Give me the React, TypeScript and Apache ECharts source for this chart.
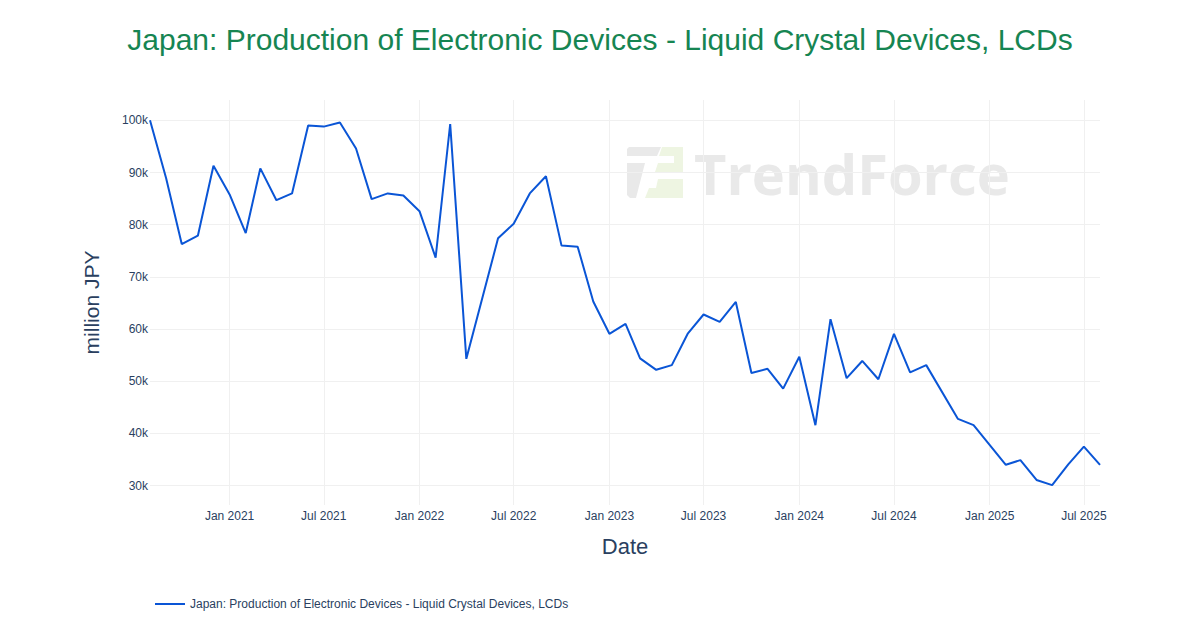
import React, { useEffect, useRef } from "react";
import * as echarts from "echarts";

// Monthly production, million JPY (months without a published figure are left out)
const months: string[] = [
  "2020-08", "2020-09", "2020-10", "2020-11", "2020-12",
  "2021-01", "2021-02", "2021-03", "2021-04", "2021-05", "2021-06",
  "2021-07", "2021-08", "2021-09", "2021-10", "2021-11", "2021-12",
  "2022-01", "2022-02", "2022-03", "2022-04", "2022-06",
  "2022-07", "2022-08", "2022-09", "2022-10", "2022-11", "2022-12",
  "2023-01", "2023-02", "2023-03", "2023-04", "2023-05", "2023-06",
  "2023-07", "2023-08", "2023-09", "2023-10", "2023-11", "2023-12",
  "2024-01", "2024-02", "2024-03", "2024-04", "2024-05", "2024-06",
  "2024-07", "2024-08", "2024-09", "2024-11", "2024-12",
  "2025-02", "2025-03", "2025-04", "2025-05", "2025-06",
  "2025-07", "2025-08",
];

const production: number[] = [
  100000, 88900, 76300, 77900, 91300,
  85800, 78400, 90800, 84700, 86000, 99000,
  98800, 99600, 94600, 84900, 86000, 85600,
  82600, 73700, 99300, 54300, 77400,
  80200, 86000, 89300, 76000, 75800, 65300,
  59100, 61000, 54400, 52200, 53100, 59200,
  62800, 61400, 65200, 51600, 52400, 48600,
  54700, 41600, 61900, 50600, 53900, 50400,
  59100, 51700, 53100, 42800, 41600,
  34000, 34900, 31100, 30100, 34100,
  37500, 34000,
];

const yTicks: number[] = [30000, 40000, 50000, 60000, 70000, 80000, 90000, 100000];
const xTicks: string[] = [
  "2021-01", "2021-07", "2022-01", "2022-07", "2023-01",
  "2023-07", "2024-01", "2024-07", "2025-01", "2025-07",
];

const seriesName = "Japan: Production of Electronic Devices - Liquid Crystal Devices, LCDs";
const monthNames = ["Jan", "Feb", "Mar", "Apr", "May", "Jun", "Jul", "Aug", "Sep", "Oct", "Nov", "Dec"];

const toTime = (ym: string): number => {
  const [y, m] = ym.split("-").map(Number);
  return Date.UTC(y, m - 1, 1);
};

const FONT = '"Liberation Sans", Arial, sans-serif';
const INK = "#2a3f5f";

export default function App() {
  const ref = useRef<HTMLDivElement>(null);

  useEffect(() => {
    if (!ref.current) return;
    const chart = echarts.init(ref.current, undefined, { renderer: "svg" });

    const data = months.map((m, i) => [toTime(m), production[i]]);
    const wm = "#e9e9e9";
    const wmGreen = "#eef5e2";

    chart.setOption({
      animation: false,
      backgroundColor: "#ffffff",
      textStyle: { fontFamily: FONT },
      title: {
        text: seriesName,
        left: "center",
        top: 19,
        textStyle: { color: "#168552", fontSize: 30, fontWeight: "normal", fontFamily: FONT },
      },
      grid: { left: 150, right: 100, top: 100, bottom: 125, containLabel: false },
      graphic: [
        {
          type: "group",
          z: -1,
          silent: true,
          children: [
            { type: "polygon", shape: { points: [[629, 147], [661, 147], [657, 156], [627, 156], [627, 149]] }, style: { fill: wm } },
            { type: "polygon", shape: { points: [[627, 163], [645, 163], [636, 198], [630, 198], [627, 195]] }, style: { fill: wm } },
            { type: "polygon", shape: { points: [[662, 147], [683, 147], [683, 172], [655, 172], [658, 163], [674, 163], [674, 156], [659, 156]] }, style: { fill: wmGreen } },
            { type: "polygon", shape: { points: [[658, 179], [683, 179], [683, 198], [645, 198], [649, 188], [656, 188]] }, style: { fill: wmGreen } },
            {
              type: "text",
              x: 694,
              y: 173,
              style: {
                text: "TrendForce",
                fill: wm,
                font: 'bold 56px "Open Sans", Lato, sans-serif',
                verticalAlign: "middle",
                align: "left",
              },
            },
          ],
        },
      ],
      legend: {
        left: 150,
        top: 593,
        icon: "path://M0,0 L30,0 L30,2 L0,2 Z",
        itemWidth: 30,
        itemHeight: 2,
        itemGap: 10,
        textStyle: { color: INK, fontSize: 12, fontFamily: FONT },
        data: [seriesName],
      },
      xAxis: {
        type: "value",
        min: toTime("2020-08"),
        max: toTime("2025-08"),
        name: "Date",
        nameLocation: "middle",
        nameGap: 30,
        nameTextStyle: { color: INK, fontSize: 22, fontFamily: FONT },
        axisLine: { show: false },
        axisTick: { show: false, customValues: xTicks.map(toTime) },
        axisLabel: {
          customValues: xTicks.map(toTime),
          color: INK,
          fontSize: 12,
          fontFamily: FONT,
          margin: 5,
          formatter: (v: number) => {
            const d = new Date(v);
            return `${monthNames[d.getUTCMonth()]} ${d.getUTCFullYear()}`;
          },
        },
        splitLine: { show: true, lineStyle: { color: "#f0f0f0", width: 1 } },
      },
      yAxis: {
        type: "value",
        min: 26300,
        max: 103900,
        name: "million JPY",
        nameLocation: "middle",
        nameGap: 48,
        nameTextStyle: { color: INK, fontSize: 21, fontFamily: FONT },
        axisLine: { show: false },
        axisTick: { show: false, customValues: yTicks },
        axisLabel: {
          customValues: yTicks,
          color: INK,
          fontSize: 12,
          fontFamily: FONT,
          margin: 2,
          formatter: (v: number) => `${Math.round(v / 1000)}k`,
        },
        splitLine: { show: true, lineStyle: { color: "#f0f0f0", width: 1 } },
      },
      series: [
        {
          name: seriesName,
          type: "line",
          data,
          showSymbol: false,
          symbol: "none",
          lineStyle: { color: "#0a55d6", width: 2 },
          itemStyle: { color: "#0a55d6" },
          z: 3,
        },
      ],
    });

    return () => chart.dispose();
  }, []);

  return (
    <div
      ref={ref}
      style={{ position: "fixed", left: 0, top: 0, width: 1200, height: 630, background: "#fff" }}
    />
  );
}
